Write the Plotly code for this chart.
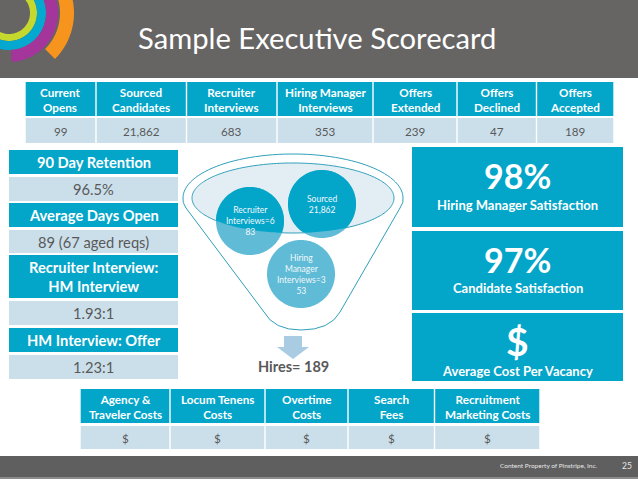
import numpy as np
import plotly.graph_objects as go

FONT = "Lato"
TEAL = "#03A5C9"
PALE = "#CBDFEA"
GREY = "#666564"
TEXT = "#595959"

# top table
top_headers = ["Current<br>Opens", "Sourced<br>Candidates", "Recruiter<br>Interviews",
               "Hiring Manager<br>Interviews", "Offers<br>Extended", "Offers<br>Declined",
               "Offers<br>Accepted"]
top_values = ["99", "21,862", "683", "353", "239", "47", "189"]

# left stack
left_headers = ["90 Day Retention", "Average Days Open", "Recruiter Interview:<br>HM Interview",
                "HM Interview: Offer"]
left_values = ["96.5%", "89 (67 aged reqs)", "1.93:1", "1.23:1"]

# right panels
panel_values = ["98%", "97%", "$"]
panel_labels = ["Hiring Manager Satisfaction", "Candidate Satisfaction", "Average Cost Per Vacancy"]

# bottom table
cost_headers = ["Agency &<br>Traveler Costs", "Locum Tenens<br>Costs", "Overtime<br>Costs",
                "Search<br>Fees", "Recruitment<br>Marketing Costs"]
cost_values = ["$", "$", "$", "$", "$"]

# funnel
funnel_labels = ["Sourced<br>21,862", "Recruiter<br>Interviews=6<br>83",
                 "Hiring<br>Manager<br>Interviews=3<br>53"]
hires_label = "Hires= 189"

title = "Sample Executive Scorecard"
footer = "Content Property of Pinstripe, Inc."
page_number = "25"

shapes = []
notes = []


def rect(x0, y0, x1, y1, color):
    shapes.append(dict(type="rect", x0=x0, y0=y0, x1=x1, y1=y1, fillcolor=color,
                       line=dict(width=0), layer="above"))


def poly(points, color, line=None, closed=True):
    path = "M " + " L ".join(f"{x:.2f},{y:.2f}" for x, y in points) + (" Z" if closed else "")
    shapes.append(dict(type="path", path=path, fillcolor=color,
                       line=line or dict(width=0), layer="above"))


def text(x, y, s, size, color="white", bold=False, anchor="center"):
    notes.append(dict(x=x, y=y, text=f"<b>{s}</b>" if bold else s, showarrow=False,
                      xanchor=anchor, yanchor="middle", align="center",
                      font=dict(family=FONT, size=size, color=color)))


def arc(cx, cy, r0, r1, start, end, color):
    t = np.radians(np.linspace(start, end, 80))
    outer = np.c_[cx + r1 * np.cos(t), cy + r1 * np.sin(t)]
    inner = np.c_[cx + r0 * np.cos(t), cy + r0 * np.sin(t)][::-1]
    poly(np.vstack([outer, inner]), color)


def table(edges, y_head, y_val, headers, values, size):
    for i in range(len(headers)):
        x0, x1 = edges[i] + 0.7, edges[i + 1] - 0.7
        rect(x0, y_head[0], x1, y_head[1], TEAL)
        rect(x0, y_val[0], x1, y_val[1], PALE)
        text((x0 + x1) / 2, sum(y_head) / 2, headers[i], size, bold=True)
        text((x0 + x1) / 2, sum(y_val) / 2, values[i], size, color=TEXT)


# header and footer bands
rect(0, 0, 638, 78, GREY)
rect(0, 456, 638, 477, "#5F5F5F")
rect(0, 477, 638, 479, "#8C8C8C")

# logo
arc(9, 13, 21, 28, 0, 360, "#C4D82E")
arc(9, 13, 28, 37, -90, 175, "#05A9D0")
arc(9, 13, 37, 49, -90, 87, "#A3359B")
arc(9, 13, 51, 65, -90, 45, "#F7941E")

text(136, 37, title, 29.2, anchor="left")
text(600, 465, footer, 6.5, color="#E6E6E6", anchor="right")
text(627, 466, page_number, 8.5, color="#E6E6E6")

table([25, 96, 186.5, 277, 373, 457, 536.5, 614], (82, 116), (118, 143), top_headers, top_values, 11.7)
table([80, 170, 265, 348, 434.5, 540], (389, 423), (426, 449), cost_headers, cost_values, 11.7)

# left stack
left_rows = [(150, 174, 177, 201), (203, 227, 230, 253), (255, 298, 301, 325), (328, 352, 355, 379)]
for head, val, (a, b, c, d) in zip(left_headers, left_values, left_rows):
    rect(9, a, 178, b, TEAL)
    rect(9, c, 178, d, PALE)
    text(93.5, (a + b) / 2, head, 14.7, bold=True)
    text(93.5, (c + d) / 2, val, 14.7, color=TEXT)

# right panels
panel_rows = [(147, 227, 175, 205, 34), (231, 310, 259, 288, 34), (313, 381, 341, 371, 39)]
for val, label, (a, b, v, l, big) in zip(panel_values, panel_labels, panel_rows):
    rect(412, a, 623, b, TEAL)
    text(517.5, v, val, big, bold=True)
    text(517.5, l, label, 13, bold=True)

# funnel
edge = dict(color="#2F9FBA", width=1)
t = np.radians(np.linspace(180, 360, 60))
top_arc = " L ".join(f"{293 + 110 * np.cos(a):.2f},{198 + 44 * np.sin(a):.2f}" for a in t)
shapes.append(dict(type="path", layer="above", fillcolor="white", line=edge,
                   path=f"M {top_arc} Q 404,202 400,208 L 340,312 Q 330,330 301,330 "
                        "Q 274,330 264,312 L 186,208 Q 182,202 183,198 Z"))

t = np.radians(np.linspace(0, 360, 240))
ell_x, ell_y, ell_rx, ell_ry = 293, 198, 101, 35
ellipse = np.c_[ell_x + ell_rx * np.cos(t), ell_y + ell_ry * np.sin(t)]
poly(ellipse, "#E3EEF4", line=edge)

hub_centers = [(322, 204), (250, 221), (301, 274)]
hub_r = 34
for (cx, cy) in hub_centers:
    circle = np.c_[cx + hub_r * np.cos(t), cy + hub_r * np.sin(t)]
    poly(circle, "#5FBBD6")
    # darker where the circle sits inside the ellipse
    in_ell = ((circle[:, 0] - ell_x) / ell_rx) ** 2 + ((circle[:, 1] - ell_y) / ell_ry) ** 2 <= 1
    in_circ = np.hypot(ellipse[:, 0] - cx, ellipse[:, 1] - cy) <= hub_r
    overlap = np.vstack([circle[in_ell], ellipse[in_circ]])
    if len(overlap) > 2:
        mid = overlap.mean(axis=0)
        order = np.argsort(np.arctan2(overlap[:, 1] - mid[1], overlap[:, 0] - mid[0]))
        poly(overlap[order], TEAL)

for label, (cx, cy) in zip(funnel_labels, hub_centers):
    text(cx, cy, label, 8.5, color="#F2F8FB")

# arrow under the funnel
poly([(284, 336), (302, 336), (302, 347), (309, 347), (293, 359), (277, 347), (284, 347)], "#A9CCE3")
text(293, 366, hires_label, 14.5, color=TEXT, bold=True)

fig = go.Figure()
fig.update_layout(width=638, height=479, margin=dict(l=0, r=0, t=0, b=0),
                  paper_bgcolor="white", plot_bgcolor="white", showlegend=False,
                  xaxis=dict(range=[0, 638], visible=False, fixedrange=True),
                  yaxis=dict(range=[479, 0], visible=False, fixedrange=True),
                  shapes=shapes, annotations=notes)
fig.write_html("out.html", post_script="document.body.style.margin='0';", config=dict(displayModeBar=False))
